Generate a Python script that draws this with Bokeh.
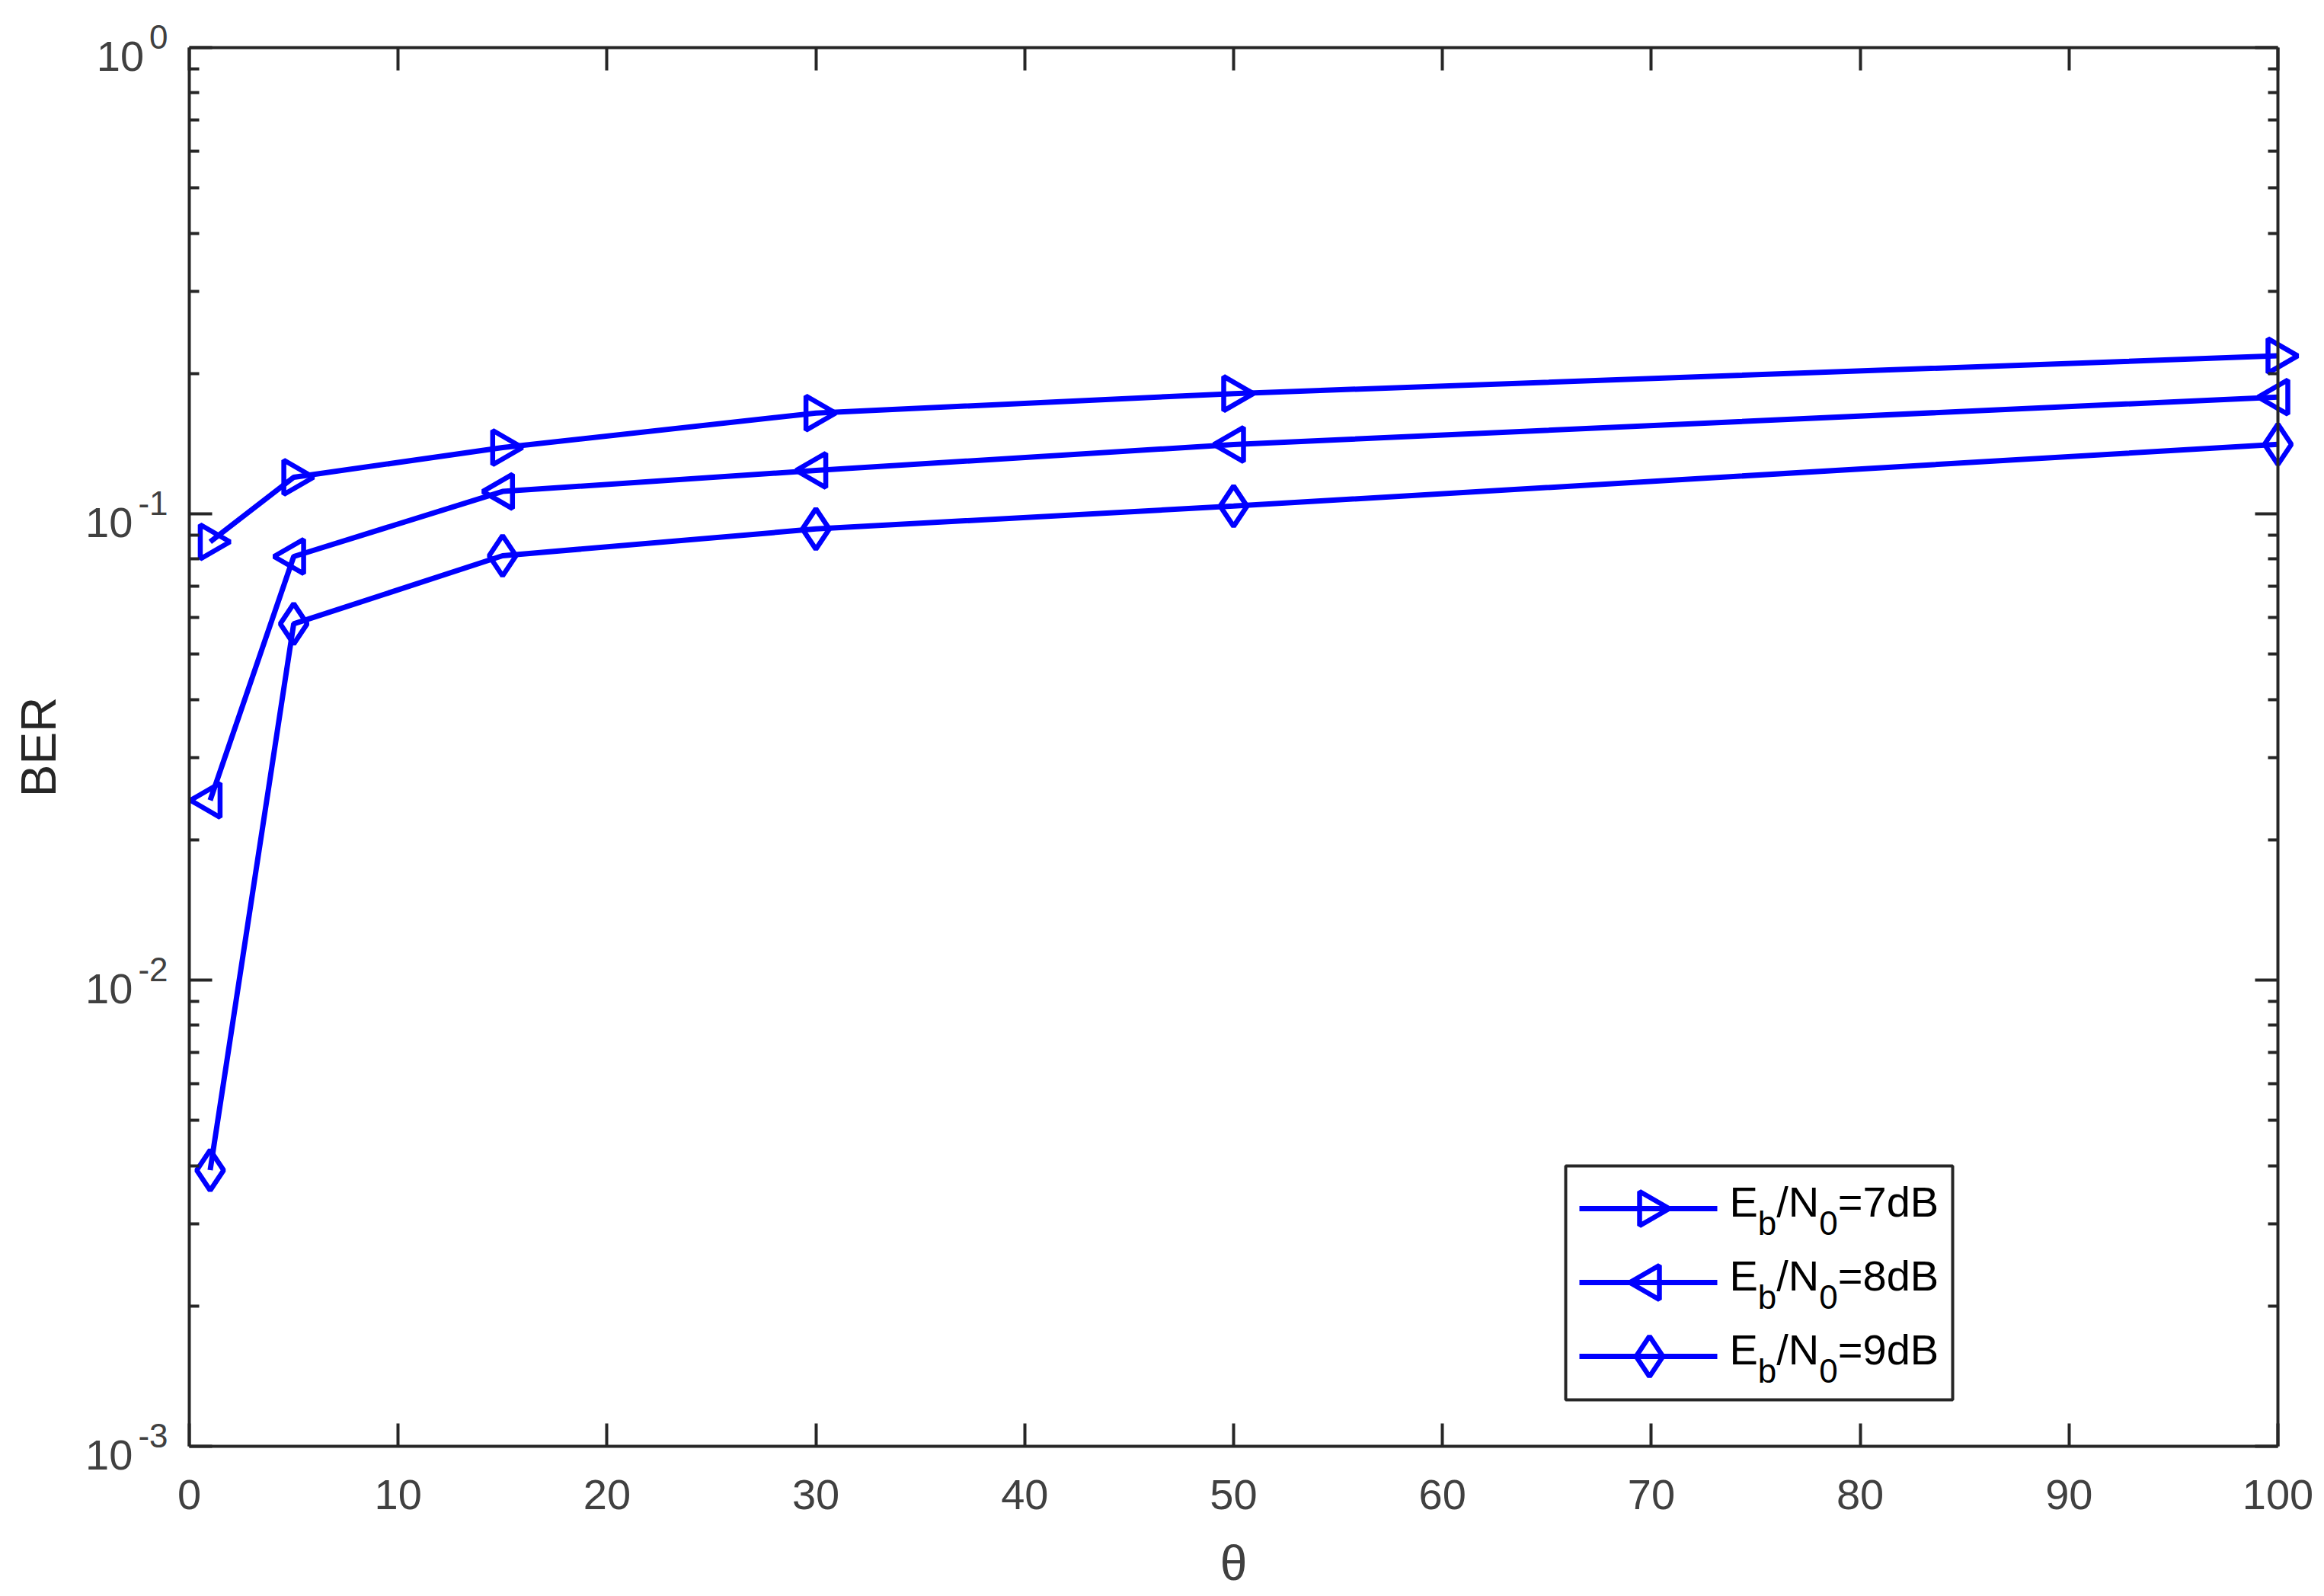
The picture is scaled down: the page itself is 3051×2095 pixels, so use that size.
import math
from bokeh.plotting import figure
from bokeh.models import (FixedTicker, LinearAxis, LogAxis, Range1d, Label,
                          LinearScale, CustomJSTickFormatter)
from bokeh.embed import file_html
from bokeh.resources import INLINE
from bokeh.core.properties import value

# ---------------- data ----------------
theta = [1, 5, 15, 30, 50, 100]
ber_7db = [0.0871, 0.1198, 0.1387, 0.1645, 0.1811, 0.2182]
ber_8db = [0.0243, 0.0810, 0.1117, 0.1239, 0.1408, 0.1780]
ber_9db = [0.00391, 0.0581, 0.0813, 0.0928, 0.1039, 0.1410]
series_snr = ["7dB", "8dB", "9dB"]

x_ticks = [0, 10, 20, 30, 40, 50, 60, 70, 80, 90, 100]
y_exponents = [-3, -2, -1, 0]
y_major = [10.0 ** e for e in y_exponents]
y_minor = [m * 10.0 ** e for e in y_exponents[:-1] for m in range(2, 10)]
x_label = "θ"
y_label = "BER"

# ---------------- layout (page pixels) ----------------
W, H = 3051, 2095
AX_L, AX_R, AX_T, AX_B = 248, 2990, 62, 1898      # axes box in page pixels
X0, X1 = x_ticks[0], x_ticks[-1]
Y0, Y1 = y_major[0], y_major[-1]
ppx = (AX_R - AX_L) / (X1 - X0)
ppd = (AX_B - AX_T) / (math.log10(Y1) - math.log10(Y0))
x_start = X0 - AX_L / ppx
x_end = X0 + (W - AX_L) / ppx
y_end = 10 ** (math.log10(Y1) + AX_T / ppd)
y_start = 10 ** (math.log10(Y1) - (H - AX_T) / ppd)

FONT = "Liberation Sans"
AX = "#262626"
TXT = "#404040"
BLUE = "#0000FF"
AXW = 4
LW = 7
MLW = 6.5

p = figure(width=W, height=H, min_border=0, title=None,
           x_range=Range1d(x_start, x_end), y_range=Range1d(y_start, y_end),
           y_axis_type="log", output_backend="svg", toolbar_location=None)
p.outline_line_color = None
p.grid.visible = False
p.background_fill_color = "white"
p.border_fill_color = "white"

blank = CustomJSTickFormatter(code="return ''")


def style_axis(a, minor):
    a.major_tick_in = 30
    a.major_tick_out = 0
    a.axis_line_width = AXW
    a.axis_line_color = AX
    a.major_tick_line_width = AXW
    a.major_tick_line_color = AX
    if minor:
        a.minor_tick_in = 13
        a.minor_tick_out = 0
        a.minor_tick_line_width = AXW
        a.minor_tick_line_color = AX
    else:
        a.minor_tick_line_color = None


xa = p.xaxis[0]
xa.ticker = FixedTicker(ticks=x_ticks)
xa.fixed_location = Y0
xa.bounds = (X0, X1)
style_axis(xa, False)
xa.major_label_text_font = FONT
xa.major_label_text_font_size = "56px"
xa.major_label_text_color = TXT
xa.major_label_standoff = 44

ya = p.yaxis[0]
ya.ticker = FixedTicker(ticks=y_major, minor_ticks=y_minor)
ya.fixed_location = X0
ya.bounds = (Y0, Y1)
ya.formatter = blank
ya.major_label_standoff = 0
style_axis(ya, True)

top = LinearAxis(ticker=FixedTicker(ticks=x_ticks), formatter=blank,
                 fixed_location=Y1, bounds=(X0, X1), major_label_standoff=0)
style_axis(top, False)
p.add_layout(top, "above")

right = LogAxis(ticker=FixedTicker(ticks=y_major, minor_ticks=y_minor), formatter=blank,
                fixed_location=X1, bounds=(Y0, Y1), major_label_standoff=0)
style_axis(right, True)
p.add_layout(right, "right")

# ---------------- series ----------------
markers = [("triangle", -math.pi / 2, 45), ("triangle", math.pi / 2, 45), ("diamond", 0.0, 53)]
for ys, (mk, ang, sz) in zip([ber_7db, ber_8db, ber_9db], markers):
    p.line(theta, ys, line_color=BLUE, line_width=LW)
    p.scatter(theta, ys, marker=mk, angle=ang, size=sz, fill_color=None,
              line_color=BLUE, line_width=MLW)

# ---------------- y tick labels 10^e ----------------
ADV = {"-": 0.333, "0": 0.556, "1": 0.556, "2": 0.556, "3": 0.556}
for v, e in zip(y_major, y_exponents):
    es = str(e)
    w = sum(ADV[c] for c in es) * 44
    p.add_layout(Label(x=X0, y=v, x_offset=-28, y_offset=14, text=es,
                       text_align="right", text_baseline="middle",
                       text_font=FONT, text_font_size="44px", text_color=TXT))
    p.add_layout(Label(x=X0, y=v, x_offset=-(28 + w + 7), y_offset=-11, text="10",
                       text_align="right", text_baseline="middle",
                       text_font=FONT, text_font_size="56px", text_color=TXT))

# axis titles
p.add_layout(Label(x=X0, y=math.sqrt(Y0 * Y1), x_offset=-198, angle=math.pi / 2,
                   text=y_label, text_align="center", text_baseline="middle",
                   text_font=FONT, text_font_size="64px", text_color=AX))
p.add_layout(Label(x=(X0 + X1) / 2, y=Y0, y_offset=-153, text=x_label,
                   text_align="center", text_baseline="middle",
                   text_font=FONT, text_font_size="64px", text_color=TXT))

# ---------------- legend (page pixel coordinates) ----------------
p.extra_x_ranges = {"px": Range1d(0, W)}
p.extra_y_ranges = {"px": Range1d(H, 0)}
p.extra_x_scales = {"px": LinearScale()}
p.extra_y_scales = {"px": LinearScale()}

p.quad(left=[2055], right=[2563], top=[1530], bottom=[1837], x_range_name="px",
       y_range_name="px", fill_color="white", line_color=AX, line_width=AXW)
row_y = [1586, 1683, 1780]
p.segment(x0=[2073] * 3, x1=[2254] * 3, y0=row_y, y1=row_y, x_range_name="px",
          y_range_name="px", line_color=BLUE, line_width=LW)
for yy, (mk, ang, sz) in zip(row_y, markers):
    p.scatter(x=[2165], y=[yy], marker=mk, angle=ang, size=sz, fill_color=None,
              line_color=BLUE, line_width=MLW, x_range_name="px", y_range_name="px")

MAIN, SUB = 56, 44
x0 = 2270
main_x, main_y, main_t, sub_x, sub_y, sub_t = [], [], [], [], [], []
for yy, snr in zip(row_y, series_snr):
    xb = x0 + 0.667 * MAIN
    xn = xb + 0.556 * SUB
    x0b = xn + (0.278 + 0.722) * MAIN
    xe = x0b + 0.556 * SUB
    main_x += [x0, xn, xe]
    main_y += [yy - 9] * 3
    main_t += ["E", "/N", "=" + snr]
    sub_x += [xb, x0b]
    sub_y += [yy + 19] * 2
    sub_t += ["b", "0"]
p.text(x=main_x, y=main_y, text=main_t, x_range_name="px", y_range_name="px",
       text_font=value(FONT), text_font_size="56px", text_color="black",
       text_align="left", text_baseline="middle")
p.text(x=sub_x, y=sub_y, text=sub_t, x_range_name="px", y_range_name="px",
       text_font=value(FONT), text_font_size="44px", text_color="black",
       text_align="left", text_baseline="middle")

open("out.html", "w").write(file_html(p, INLINE))
